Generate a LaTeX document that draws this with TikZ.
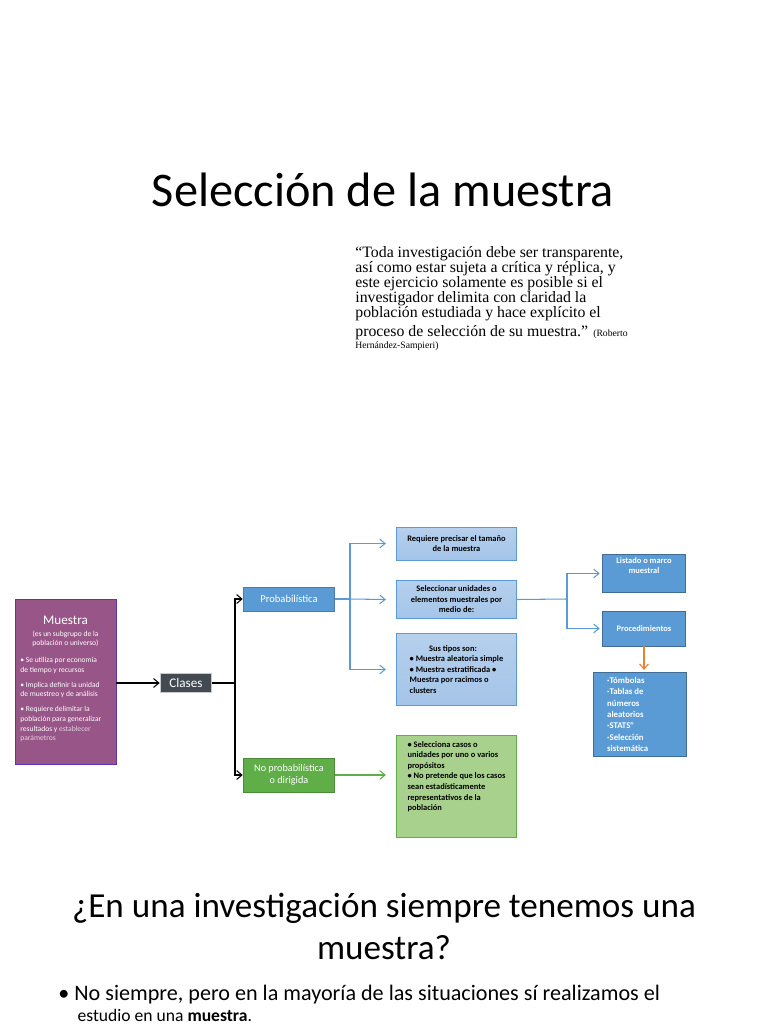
\documentclass[tikz,border=0pt]{standalone}
\usepackage{fontspec}
\setmainfont{Carlito}
\newfontfamily\qfont{Liberation Serif}
\usetikzlibrary{arrows.meta}
\definecolor{pblue}{HTML}{5B9BD5}
\definecolor{lblue}{HTML}{A4C4E8}
\definecolor{pgreen}{HTML}{5FAE48}
\definecolor{lgreen}{HTML}{A9D18E}
\definecolor{purp}{HTML}{985587}
\definecolor{dgray}{HTML}{434A52}
\definecolor{orng}{HTML}{ED7D31}
\tikzset{
 bx/.style={draw, line width=0.5pt, inner sep=1.5pt, align=center, font=\fontsize{5.5}{6.8}\selectfont},
 con/.style={line width=0.6pt},
 arr/.style={con,-{Straight Barb[length=3pt,width=5pt]}},
}
\begin{document}
\begin{tikzpicture}[x=0.02cm,y=-0.02cm]
\useasboundingbox (0,0) rectangle (768,1024);
\clip (0,0) rectangle (768,1024);
\node (title) at (383,190) {\fontsize{27.5}{30}\selectfont Selección de la muestra};
\node[anchor=north west, align=flush left, inner sep=0, font=\qfont\fontsize{9}{8.6}\selectfont] (quote) at (355,246) {“Toda investigación debe ser transparente,\\ así como estar sujeta a crítica y réplica, y\\ este ejercicio solamente es posible si el\\ investigador delimita con claridad la\\ población estudiada y hace explícito el\\[2pt] proceso de selección de su muestra.” {\fontsize{5.5}{6}\selectfont (Roberto}\\[-2pt] {\fontsize{5.5}{6}\selectfont Hernández-Sampieri)}};

\node[bx, draw=purp!60!blue, fill=purp, minimum width=101*0.567pt, minimum height=166*0.567pt, anchor=north west] (mu) at (15,599) {};
\node[text=white, align=center, font=\fontsize{7.5}{8}\selectfont] at (65.5,620) {Muestra};
\node[text=white, align=center, font=\fontsize{4.3}{5}\selectfont] at (65.5,639) {(es un subgrupo de la\\ población o universo)};
\node[text=white, align=left, anchor=north west, font=\fontsize{4.3}{5.5}\selectfont, inner sep=0] at (20,657) {• Se utiliza por economía\\ de tiempo y recursos\\[3pt] • Implica definir la unidad\\ de muestreo y de análisis\\[3pt] • Requiere delimitar la\\ población para generalizar\\ resultados y {\color{white!75!purp}establecer}\\ {\color{white!75!purp}parámetros}};

\node[bx, draw=white!70!dgray, fill=dgray, text=white, minimum width=52*0.567pt, minimum height=19*0.567pt, font=\fontsize{7.5}{8}\selectfont] (cl) at (186,683) {Clases};
\node[bx, draw=pblue!80!black, fill=pblue, text=white, minimum width=92*0.567pt, minimum height=24*0.567pt, font=\fontsize{6}{7}\selectfont] (pr) at (289,599) {Probabilística};
\node[bx, draw=pgreen!80!black, fill=pgreen, text=white, minimum width=92*0.567pt, minimum height=34*0.567pt, font=\fontsize{5.8}{7}\selectfont] (np) at (289,775) {No probabilística\\ o dirigida};

\tikzset{lb/.style={bx, draw=pblue, top color=lblue!80!white, bottom color=lblue, minimum width=121*0.567pt, font=\bfseries\fontsize{4.8}{6}\selectfont}}
\node[lb, minimum height=33*0.567pt] (r1) at (456.5,543.5) {Requiere precisar el tamaño\\ de la muestra};
\node[lb, minimum height=39*0.567pt] (r2) at (456.5,599.5) {Seleccionar unidades o\\ elementos muestrales por\\ medio de:};
\node[lb, minimum height=73*0.567pt, align=left] (r3) at (456.5,669.5) {\hspace*{11pt}Sus tipos son:\\ • Muestra aleatoria simple\\ • Muestra estratificada •\\ Muestra por racimos o\\ clusters};
\node[bx, draw=pgreen, fill=lgreen, minimum width=121*0.567pt, minimum height=103*0.567pt, align=left, font=\bfseries\fontsize{4.8}{6}\selectfont] (g) at (456.5,786.5) {• Selecciona casos o\\ unidades por uno o varios\\ propósitos\\ • No pretende que los casos\\ sean estadísticamente\\ representativos de la\\ población\\[6pt]};

\tikzset{db/.style={bx, draw=pblue!70!black, fill=pblue, text=white, minimum width=84*0.567pt, minimum height=35*0.567pt, font=\bfseries\fontsize{4.8}{6}\selectfont}}
\node[db] (li) at (644,573.5) {Listado o marco\\ muestral\\[3pt]};
\node[db] (pc) at (644,628.5) {Procedimientos};
\node[db, minimum width=94*0.567pt, minimum height=85*0.567pt, align=left, font=\bfseries\fontsize{5}{6.5}\selectfont] (tb) at (640,714.5) {·Tómbolas\\ ·Tablas de\\ números\\ aleatorios\\ ·STATS®\\ ·Selección\\ sistemática\hspace*{14pt}};

\draw[arr] (mu.east |- cl) -- (cl.west);
\coordinate (c1) at (235,683);
\draw[con] (cl.east) -- (c1);
\draw[arr] (c1) |- (pr.west);
\draw[arr] (c1) |- (np.west);
\coordinate (c2) at (350,599);
\draw[con, pblue] (pr.east) -- (c2);
\draw[arr, pblue] (c2) |- ([xshift=-10*0.567pt]r1.west);
\draw[arr, pblue] (c2) -- ([xshift=-10*0.567pt]r2.west);
\draw[arr, pblue] (c2) |- ([xshift=-10*0.567pt]r3.west);
\coordinate (c3) at (567,599);
\draw[con, pblue] (r2.east) -- (c3);
\draw[arr, pblue] (c3) |- ([xshift=-2*0.567pt]li.west);
\draw[arr, pblue] (c3) |- ([xshift=-2*0.567pt]pc.west);
\draw[arr, orng] (pc.south) -- ([yshift=1]tb.north -| pc.south);
\draw[arr, pgreen] (np.east) -- ([xshift=-10*0.567pt]g.west |- np.east);

\node (q) at (384,930) {\fontsize{20}{24}\selectfont\begin{tabular}{c}¿En una investigación siempre tenemos una\\ muestra?\end{tabular}};
\node[anchor=north west, align=left, inner sep=0] (b) at (58,985) {\fontsize{12.6}{15.5}\selectfont • No siempre, pero en la mayoría de las situaciones sí realizamos el\\ \hspace*{11pt}estudio en una \textbf{muestra}.};
\end{tikzpicture}
\end{document}
